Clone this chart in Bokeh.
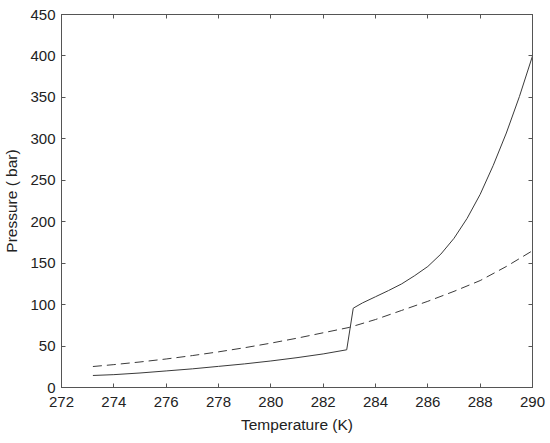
from bokeh.plotting import figure
from bokeh.models import LinearAxis, Range1d, FixedTicker, CustomJSTickFormatter
from bokeh.embed import file_html
from bokeh.resources import INLINE

# Solid curve
temp_solid = [273.2, 274, 275, 276, 277, 278, 279, 280, 281, 282, 282.9,
              283.15, 283.5, 284, 284.5, 285, 285.5, 286, 286.5, 287, 287.5,
              288, 288.5, 289, 289.5, 290]
pres_solid = [14.5, 15.5, 17.5, 20, 22.5, 25.5, 28.5, 32, 36, 40.5, 45.5,
              95.7, 102, 109.5, 117, 125, 135, 146, 161, 180, 204,
              233, 268, 307, 351, 400]

# Dashed curve
temp_dash = [273.2, 274, 275, 276, 277, 278, 279, 280, 281, 282, 283,
             284, 285, 286, 287, 288, 289, 290]
pres_dash = [25.3, 27.6, 30.8, 34.4, 38.5, 43, 48, 53.5, 59.5, 66, 72.5,
             82, 93, 104, 116, 129, 146, 165]

x_ticks = [272, 274, 276, 278, 280, 282, 284, 286, 288, 290]
y_ticks = [0, 50, 100, 150, 200, 250, 300, 350, 400, 450]

FONT = "Liberation Sans"
AX_COLOR = "#555555"
TXT_COLOR = "#222222"
LINE_COLOR = "#3a3a3a"

p = figure(width=548, height=441, output_backend="svg", toolbar_location=None,
           x_range=Range1d(272, 290), y_range=Range1d(0, 450),
           min_border_left=60, min_border_right=16, min_border_top=14,
           min_border_bottom=54)
p.grid.visible = False
p.outline_line_color = AX_COLOR
p.background_fill_color = "white"
p.border_fill_color = "white"

p.line(temp_solid, pres_solid, line_color=LINE_COLOR, line_width=1)
p.line(temp_dash, pres_dash, line_color=LINE_COLOR, line_width=1, line_dash="9 5")

def style(ax, ticks, labels=True):
    ax.ticker = FixedTicker(ticks=ticks)
    ax.axis_line_color = AX_COLOR
    ax.major_tick_line_color = AX_COLOR
    ax.major_tick_in = 4
    ax.major_tick_out = 0
    ax.minor_tick_line_color = None
    if labels:
        ax.major_label_text_font = FONT
        ax.major_label_text_font_size = "15px"
        ax.major_label_text_color = TXT_COLOR
        ax.axis_label_text_font = FONT
        ax.axis_label_text_font_size = "15.5px"
        ax.axis_label_text_font_style = "normal"
        ax.axis_label_text_color = TXT_COLOR
    else:
        ax.formatter = CustomJSTickFormatter(code="return '';")
        ax.major_label_standoff = 0

style(p.xaxis[0], x_ticks)
style(p.yaxis[0], y_ticks)
p.xaxis[0].axis_label = "Temperature (K)"
p.yaxis[0].axis_label = "Pressure ( bar)"
p.xaxis[0].major_label_standoff = 9
p.xaxis[0].axis_label_standoff = 6
p.yaxis[0].major_label_standoff = 6
p.yaxis[0].axis_label_standoff = 7

top = LinearAxis()
style(top, x_ticks, labels=False)
p.add_layout(top, "above")
right = LinearAxis()
style(right, y_ticks, labels=False)
p.add_layout(right, "right")

open("out.html", "w").write(file_html(p, INLINE))
